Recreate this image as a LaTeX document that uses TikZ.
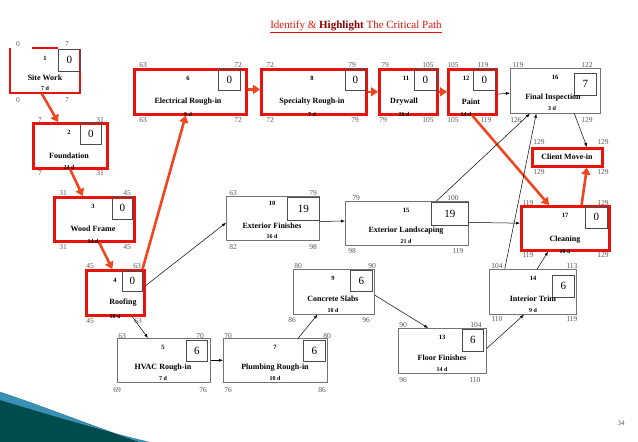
\documentclass[tikz,border=0pt]{standalone}
\usepackage{fontspec}
\setmainfont{Liberation Serif}
\usetikzlibrary{calc,arrows.meta}
\definecolor{crit}{HTML}{E8140C}
\definecolor{arr}{HTML}{F0461E}
\definecolor{tgray}{HTML}{555555}
\definecolor{dred}{HTML}{8B0000}
\tikzset{
 bx/.style={draw=black!55,line width=0.6pt,anchor=north west,inner sep=0pt},
 cbx/.style={draw=crit,line width=2.6pt,anchor=north west,inner sep=0pt},
 sl/.style={draw=black!70,line width=0.5pt,anchor=north west,inner sep=0pt,font=\fontsize{11}{11}\selectfont},
 tm/.style={text=tgray,font=\fontsize{7.5}{8}\selectfont,inner sep=0pt},
 nm/.style={font=\bfseries\fontsize{8}{9}\selectfont,inner sep=0pt},
 idn/.style={font=\bfseries\fontsize{6.5}{7}\selectfont,inner sep=0pt},
 du/.style={font=\bfseries\fontsize{6}{7}\selectfont,inner sep=0pt},
 ca/.style={draw=arr,line width=2.6pt,-{Triangle[length=7pt,width=9pt]}},
 na/.style={draw=black,line width=0.5pt,-{Latex[length=4pt,width=3pt]}}
}
\newcommand{\bb}[6]{\node[#1,minimum width=#4pt,minimum height=#5pt] (#6) at (#2,#3) {};}
\begin{document}
\begin{tikzpicture}[x=1pt,y=-1pt]
\useasboundingbox (0,0) rectangle (638,442);
% swoosh
\fill[teal!60!black] (0,392) .. controls (40,405) and (90,425) .. (140,442) -- (0,442) -- cycle;
\fill[cyan!40!teal] (0,400) .. controls (50,415) and (100,430) .. (150,442) -- (140,442) .. controls (90,425) and (40,405) .. (0,392) -- cycle;
% title
\node[text=crit,font=\fontsize{11}{12}\selectfont,inner sep=0pt] (title) at (356,27) {\underline{Identify \& \textcolor{dred}{\textbf{Highlight}} The Critical Path}};
\node[text=tgray,font=\fontsize{7}{8}\selectfont] (pg) at (621,423) {34};
% boxes
\draw[crit,line width=2.6pt] (32,48) -- (58,48);
\draw[crit,line width=2.6pt] (10,48) -- (10,93) -- (80,93) -- (80,50);
\node[anchor=north west,minimum width=70pt,minimum height=45pt,inner sep=0pt] (b1) at (10,48) {};
\bb{cbx}{32}{122}{74}{45}{b2}
\bb{cbx}{53}{196}{80}{44}{b3}
\bb{cbx}{85}{269}{58}{45}{b4}
\bb{bx}{117}{338}{93}{44}{b5}
\bb{cbx}{133}{68}{112}{45}{b6}
\bb{bx}{223}{338}{104}{44}{b7}
\bb{cbx}{260}{68}{105}{45}{b8}
\bb{bx}{293}{269}{81}{45}{b9}
\bb{bx}{226}{196}{93}{44}{b10}
\bb{cbx}{378}{68}{58}{45}{b11}
\bb{cbx}{447}{68}{48}{45}{b12}
\bb{bx}{398}{328}{88}{45}{b13}
\bb{bx}{489}{269}{87}{45}{b14}
\bb{bx}{345}{201}{123}{44}{b15}
\bb{bx}{510}{68}{90}{45}{b16}
\bb{cbx}{520}{205}{88}{44}{b17}
\bb{cbx}{531}{147}{70}{18}{bC}
% slack boxes
\node[sl,minimum width=22pt,minimum height=22pt] (s1) at (58,49) {0};
\node[sl,minimum width=21pt,minimum height=21pt] (s2) at (80,123) {0};
\node[sl,minimum width=20pt,minimum height=22pt] (s3) at (112,197) {0};
\node[sl,minimum width=20pt,minimum height=20pt] (s4) at (122,271) {0};
\node[sl,minimum width=21pt,minimum height=21pt] (s5) at (186,340) {6};
\node[sl,minimum width=22pt,minimum height=21pt] (s6) at (218,69) {0};
\node[sl,minimum width=22pt,minimum height=21pt] (s7) at (303,340) {6};
\node[sl,minimum width=20pt,minimum height=21pt] (s8) at (345,69) {0};
\node[sl,minimum width=22pt,minimum height=21pt] (s9) at (350,270) {6};
\node[sl,minimum width=32pt,minimum height=23pt] (s10) at (287,197) {19};
\node[sl,minimum width=22pt,minimum height=21pt] (s11) at (414,69) {0};
\node[sl,minimum width=22pt,minimum height=21pt] (s12) at (473,69) {0};
\node[sl,minimum width=21pt,minimum height=22pt] (s13) at (462,329) {6};
\node[sl,minimum width=22pt,minimum height=22pt] (s14) at (552,275) {6};
\node[sl,minimum width=37pt,minimum height=23pt] (s15) at (431,202) {19};
\node[sl,minimum width=22pt,minimum height=22pt] (s16) at (574,73) {7};
\node[sl,minimum width=22pt,minimum height=22pt] (s17) at (585,206) {0};
% ids, names, durations
\node[idn] (i1) at (45,58) {1}; \node[nm] (n1) at (45,78) {Site Work}; \node[du] (d1) at (45,88) {7 d};
\node[idn] (i2) at (69,132) {2}; \node[nm] (n2) at (69,156) {Foundation}; \node[du] (d2) at (69,167) {24 d};
\node[idn] (i3) at (93,206) {3}; \node[nm] (n3) at (93,229) {Wood Frame}; \node[du] (d3) at (93,241) {14 d};
\node[idn] (i4) at (115,280) {4}; \node[nm] (n4) at (123,303) {Roofing}; \node[du] (d4) at (115,316) {18 d};
\node[idn] (i5) at (163,347) {5}; \node[nm] (n5) at (163,368) {HVAC Rough-in}; \node[du] (d5) at (163,378) {7 d};
\node[idn] (i6) at (188,78) {6}; \node[nm] (n6) at (188,102) {Electrical Rough-in}; \node[du] (d6) at (188,114) {9 d};
\node[idn] (i7) at (275,347) {7}; \node[nm] (n7) at (275,368) {Plumbing Rough-in}; \node[du] (d7) at (275,378) {10 d};
\node[idn] (i8) at (312,78) {8}; \node[nm] (n8) at (312,102) {Specialty Rough-in}; \node[du] (d8) at (312,114) {7 d};
\node[idn] (i9) at (333,278) {9}; \node[nm] (n9) at (333,299) {Concrete Slabs}; \node[du] (d9) at (333,310) {10 d};
\node[idn] (i10) at (272,203) {10}; \node[nm] (n10) at (272,226) {Exterior Finishes}; \node[du] (d10) at (272,236) {16 d};
\node[idn] (i11) at (406,78) {11}; \node[nm] (n11) at (404,102) {Drywall}; \node[du] (d11) at (404,114) {26 d};
\node[idn] (i12) at (466,78) {12}; \node[nm] (n12) at (471,102) {Paint}; \node[du] (d12) at (466,114) {14 d};
\node[idn] (i13) at (442,337) {13}; \node[nm] (n13) at (442,358) {Floor Finishes}; \node[du] (d13) at (442,369) {14 d};
\node[idn] (i14) at (533,278) {14}; \node[nm] (n14) at (533,299) {Interior Trim}; \node[du] (d14) at (533,310) {9 d};
\node[idn] (i15) at (406,210) {15}; \node[nm] (n15) at (406,231) {Exterior Landscaping}; \node[du] (d15) at (406,241) {21 d};
\node[idn] (i16) at (555,77) {16}; \node[nm] (n16) at (553,98) {Final Inspection}; \node[du] (d16) at (552,108) {3 d};
\node[idn] (i17) at (565,215) {17}; \node[nm] (n17) at (565,240) {Cleaning}; \node[du] (d17) at (565,251) {10 d};
\node[nm] (nC) at (567,157) {Client Move-in};
% times
\foreach \x/\y/\t [count=\k] in {18/44/0,67/44/7,18/100/0,67/100/7,
 40/120/7,100/120/31,40/173/7,100/173/31,
 63/193/31,127/193/45,63/247/31,127/247/45,
 90/266/45,137/266/63,90/321/45,138/321/63,
 122/336/63,200/336/70,117/390/69,203/390/76,
 228/336/70,327/336/80,228/390/76,322/390/86,
 298/266/80,372/266/90,292/320/86,366/320/96,
 233/193/63,313/193/79,233/247/82,313/247/98,
 356/198/79,453/198/100,352/251/98,458/251/119,
 403/325/90,476/325/104,403/380/96,475/380/110,
 497/266/104,572/266/113,497/319/110,572/319/119,
 528/203/119,603/203/129,528/255/119,603/255/129,
 539/142/129,603/142/129,539/172/129,603/172/129,
 518/65/119,587/65/122,516/120/126,587/120/129,
 453/65/105,483/65/119,453/120/105,486/120/119,
 385/65/79,428/65/105,383/120/79,428/120/105,
 270/65/72,352/65/79,270/120/72,355/120/79,
 143/65/63,238/65/72,143/120/63,238/120/72}
 \node[tm] (t\k) at (\x,\y) {\t};
% critical arrows
\draw[ca] ($(b1.south west)!0.45!(b1.south east)$) -- ($(b2.north west)!0.34!(b2.north east)$);
\draw[ca] ($(b2.south west)!0.5!(b2.south east)$) -- ($(b3.north west)!0.36!(b3.north east)$);
\draw[ca] ($(b3.south west)!0.56!(b3.south east)$) -- ($(b4.north west)!0.45!(b4.north east)$);
\draw[ca] ($(b4.north west)!0.95!(b4.north east)$) -- ($(b6.south west)!0.46!(b6.south east)$);
\draw[ca] ($(b6.north east)!0.45!(b6.south east)$) -- ($(b8.north west)!0.45!(b8.south west)$);
\draw[ca] ($(b8.north east)!0.5!(b8.south east)$) -- ($(b11.north west)!0.5!(b11.south west)$);
\draw[ca] ($(b11.north east)!0.5!(b11.south east)$) -- ($(b12.north west)!0.5!(b12.south west)$);
\draw[ca] ($(b12.south west)!0.5!(b12.south east)$) -- ($(b17.north west)!0.32!(b17.north east)$);
\draw[ca] ($(b17.north west)!0.68!(b17.north east)$) -- ($(bC.south west)!0.77!(bC.south east)$);
% normal arrows
\draw[na] ($(b12.north east)!0.55!(b12.south east)$) -- ($(b16.north west)!0.55!(b16.south west)$);
\draw[na] ($(b16.south west)!0.71!(b16.south east)$) -- ($(bC.north west)!0.77!(bC.north east)$);
\draw[na] ($(b4.north east)!0.35!(b4.south east)$) -- ($(b10.north west)!0.6!(b10.south west)$);
\draw[na] ($(b4.south west)!0.78!(b4.south east)$) -- ($(b5.north west)!0.33!(b5.north east)$);
\draw[na] (b5.east) -- (b7.west);
\draw[na] ($(b7.north west)!0.72!(b7.north east)$) -- ($(b9.south west)!0.3!(b9.south east)$);
\draw[na] ($(b9.north east)!0.57!(b9.south east)$) -- ($(b13.north west)!0.34!(b13.north east)$);
\draw[na] ($(b13.north east)!0.45!(b13.south east)$) -- ($(b14.south west)!0.4!(b14.south east)$);
\draw[na] ($(b14.north west)!0.55!(b14.north east)$) -- ($(b17.south west)!0.31!(b17.south east)$);
\draw[na] ($(b10.north east)!0.57!(b10.south east)$) -- ($(b15.north west)!0.45!(b15.south west)$);
\draw[na] ($(b15.north east)!0.48!(b15.south east)$) -- ($(b17.north west)!0.39!(b17.south west)$);
\draw[na] ($(b15.north west)!0.74!(b15.north east)$) -- ($(b16.south west)!0.22!(b16.south east)$);
\draw[na] ($(b14.north west)!0.18!(b14.north east)$) -- ($(b16.south west)!0.29!(b16.south east)$);
\end{tikzpicture}
\end{document}
